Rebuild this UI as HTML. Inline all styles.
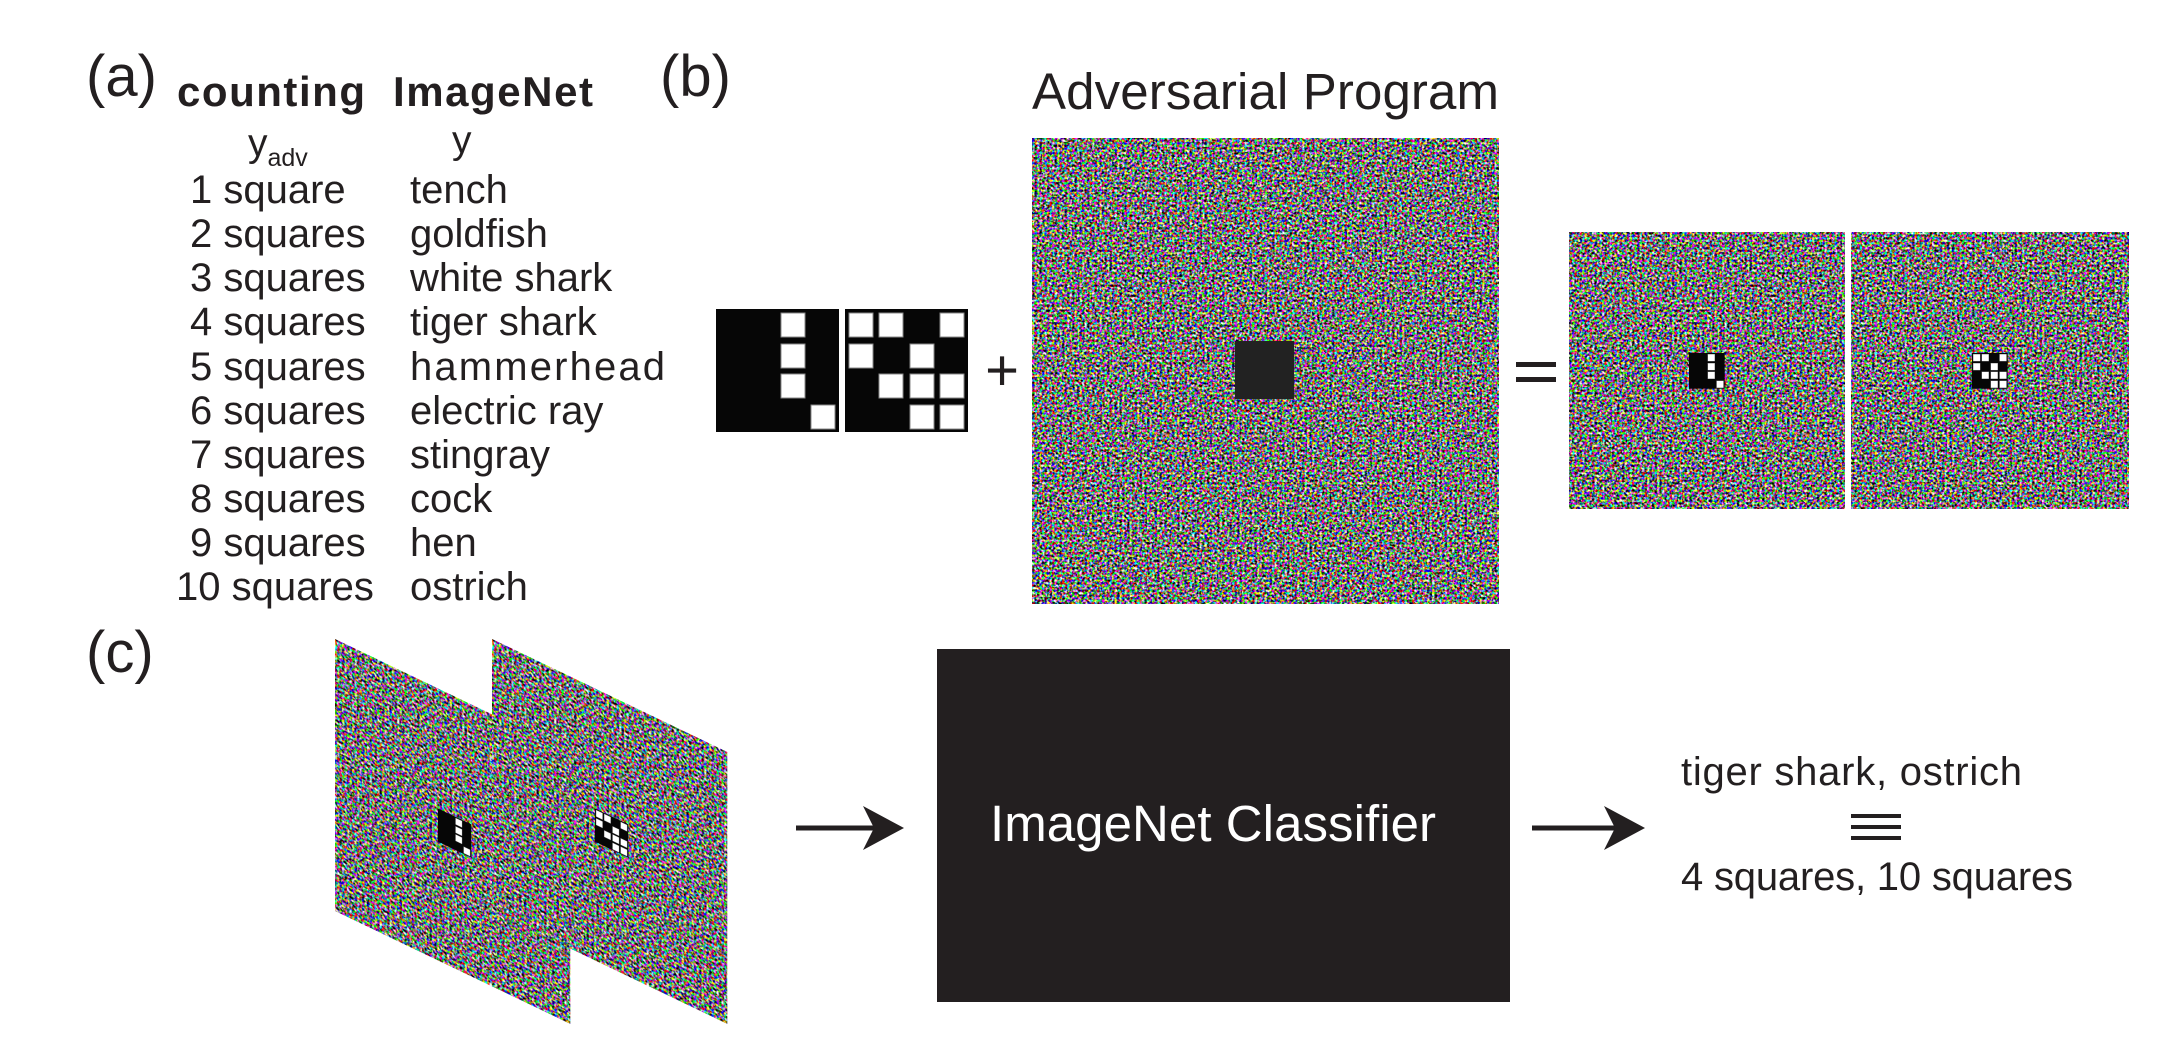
<!DOCTYPE html>
<html><head><meta charset="utf-8"><style>
html,body{margin:0;padding:0;background:#fff;}
svg{display:block}
text{font-family:"Liberation Sans",sans-serif;fill:#231f20}
</style></head><body>
<svg width="2164" height="1046" viewBox="0 0 2164 1046" xmlns="http://www.w3.org/2000/svg">
<defs>
<filter id="nz" x="0" y="0" width="100%" height="100%" color-interpolation-filters="sRGB">
<feTurbulence type="fractalNoise" baseFrequency="0.4" numOctaves="2" seed="3" result="t"/>
<feColorMatrix in="t" type="matrix" values="3.4 0 0 0 -1.25  0 3.4 0 0 -1.25  0 0 3.4 0 -1.25  0 0 0 0 1" result="c"/>
<feComposite in="c" in2="SourceGraphic" operator="in"/>
</filter>
<g id="g1">
<rect x="0" y="0" width="123" height="123" fill="#060606"/>
<g fill="#fff" stroke="#888" stroke-width="1">
<rect x="65" y="4" width="24" height="24"/><rect x="65" y="35" width="24" height="24"/><rect x="65" y="65" width="24" height="24"/><rect x="95" y="96" width="24" height="24"/>
</g></g>
<g id="g2">
<rect x="0" y="0" width="123" height="123" fill="#060606"/>
<g fill="#fff" stroke="#888" stroke-width="1">
<rect x="4" y="4" width="24" height="24"/><rect x="34" y="4" width="24" height="24"/><rect x="95" y="4" width="24" height="24"/>
<rect x="4" y="35" width="24" height="24"/><rect x="65" y="35" width="24" height="24"/>
<rect x="34" y="65" width="24" height="24"/><rect x="65" y="65" width="24" height="24"/><rect x="95" y="65" width="24" height="24"/>
<rect x="65" y="96" width="24" height="24"/><rect x="95" y="96" width="24" height="24"/>
</g></g>
</defs>

<!-- (a) -->
<text x="86" y="96" font-size="58">(a)</text>
<text x="177" y="106" font-size="42" font-weight="bold" textLength="188">counting</text>
<text x="393" y="106" font-size="42" font-weight="bold" textLength="200">ImageNet</text>
<text x="248" y="156" font-size="39">y<tspan font-size="25" dy="10">adv</tspan></text>
<text x="452" y="153" font-size="39">y</text>
<g font-size="40">
<text x="190" y="203">1 square</text><text x="410" y="203">tench</text>
<text x="190" y="247">2 squares</text><text x="410" y="247">goldfish</text>
<text x="190" y="291">3 squares</text><text x="410" y="291">white shark</text>
<text x="190" y="335">4 squares</text><text x="410" y="335">tiger shark</text>
<text x="190" y="380">5 squares</text><text x="410" y="380" textLength="255">hammerhead</text>
<text x="190" y="424">6 squares</text><text x="410" y="424">electric ray</text>
<text x="190" y="468">7 squares</text><text x="410" y="468">stingray</text>
<text x="190" y="512">8 squares</text><text x="410" y="512">cock</text>
<text x="190" y="556">9 squares</text><text x="410" y="556">hen</text>
<text x="176" y="600">10 squares</text><text x="410" y="600">ostrich</text>
</g>

<!-- (b) -->
<text x="660" y="96" font-size="58">(b)</text>
<text x="1032" y="109" font-size="51" textLength="467">Adversarial Program</text>
<use href="#g1" x="716" y="309"/>
<use href="#g2" x="845" y="309"/>
<text x="1002" y="390" font-size="58" text-anchor="middle">+</text>
<rect x="1032" y="138" width="467" height="466" fill="#888" filter="url(#nz)"/>
<rect x="1235" y="341" width="59" height="58" fill="#222"/>
<rect x="1516" y="362" width="40" height="5" fill="#231f20"/>
<rect x="1516" y="377" width="40" height="5" fill="#231f20"/>
<rect x="1569" y="232" width="276" height="277" fill="#888" filter="url(#nz)"/>
<rect x="1851" y="232" width="278" height="277" fill="#888" filter="url(#nz)"/>
<use href="#g1" transform="translate(1689,353) scale(0.29)"/>
<use href="#g2" transform="translate(1972,353) scale(0.29)"/>

<!-- (c) -->
<text x="86" y="672" font-size="58">(c)</text>
<g transform="matrix(1,0.48,0,1,335,639)">
<rect x="0" y="0" width="235" height="272" fill="#888" filter="url(#nz)" stroke="#333" stroke-width="1"/>
<use href="#g1" transform="translate(103,120) scale(0.27)"/>
</g>
<g transform="matrix(1,0.48,0,1,492,639)">
<rect x="0" y="0" width="235" height="272" fill="#888" filter="url(#nz)" stroke="#333" stroke-width="1"/>
<use href="#g2" transform="translate(103,120) scale(0.27)"/>
</g>
<line x1="796" y1="828" x2="885" y2="828" stroke="#231f20" stroke-width="5"/>
<path d="M863 806 L904 828 L863 850 L874 828 Z" fill="#231f20"/>
<rect x="937" y="649" width="573" height="353" fill="#231f20"/>
<text x="1213" y="841" font-size="51" text-anchor="middle" style="fill:#fff" textLength="446">ImageNet Classifier</text>
<line x1="1532" y1="828" x2="1626" y2="828" stroke="#231f20" stroke-width="5"/>
<path d="M1604 806 L1645 828 L1604 850 L1615 828 Z" fill="#231f20"/>
<text x="1681" y="785" font-size="40" textLength="341">tiger shark, ostrich</text>
<rect x="1851" y="814" width="50" height="4" fill="#231f20"/>
<rect x="1851" y="825" width="50" height="4" fill="#231f20"/>
<rect x="1851" y="836" width="50" height="4" fill="#231f20"/>
<text x="1681" y="890" font-size="40" textLength="392">4 squares, 10 squares</text>
</svg>
</body></html>
